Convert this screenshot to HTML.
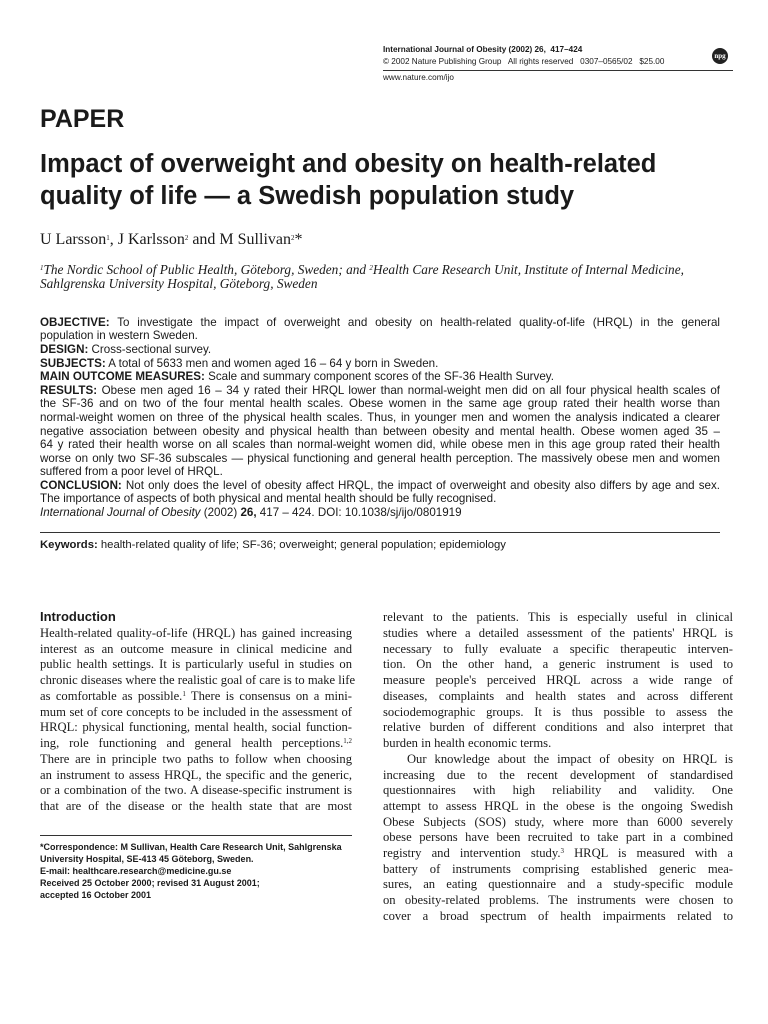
<!DOCTYPE html>
<html><head><meta charset="utf-8">
<style>
body{margin:0;background:#fff;}
#page{position:relative;width:768px;height:1024px;overflow:hidden;background:#fff;color:#1a1a1a;}
.l{position:absolute;white-space:nowrap;line-height:14px;}
.s{font-family:"Liberation Sans",sans-serif;}
.r{font-family:"Liberation Serif",serif;}
.a{font-size:11.6px;left:40px;width:680px;}
.j{text-align:justify;text-align-last:justify;}
.bl{font-size:12.6px;left:40px;width:312px;}
.br{font-size:12.6px;left:383px;width:350px;}
sup{font-size:7px;line-height:0;vertical-align:4px;}
.fn{font-size:9px;font-weight:bold;left:40px;}
</style></head><body>
<div id="page">
<div class="l s" style="left:383px;top:43px;font-size:8.2px;font-weight:bold">International Journal of Obesity (2002) 26, &nbsp;417–424</div>
<div class="l s" style="left:383px;top:55px;font-size:8.2px">© 2002 Nature Publishing Group &nbsp; All rights reserved &nbsp; 0307–0565/02 &nbsp; $25.00</div>
<div style="position:absolute;left:383px;top:70px;width:350px;height:1px;background:#333"></div>
<div class="l s" style="left:383px;top:71px;font-size:8.2px">www.nature.com/ijo</div>
<div style="position:absolute;left:712px;top:48px;width:16px;height:16px;border-radius:50%;background:#222;color:#fff;font:bold 7px 'Liberation Serif',serif;text-align:center;line-height:16px">npg</div>

<div class="l s" style="left:40px;top:103px;font-size:25px;font-weight:bold;line-height:32px">PAPER</div>
<div class="l s" style="left:40px;top:149px;font-size:25.5px;font-weight:bold;line-height:30px">Impact of overweight and obesity on health-related</div>
<div class="l s" style="left:40px;top:181px;font-size:25.5px;font-weight:bold;line-height:30px">quality of life — a Swedish population study</div>
<div class="l r" style="left:40px;top:231px;font-size:16px;line-height:18px">U Larsson<sup>1</sup>, J Karlsson<sup>2</sup> and M Sullivan<sup>2</sup>*</div>
<div class="l r" style="left:40px;top:263px;font-size:13.3px;font-style:italic"><sup>1</sup>The Nordic School of Public Health, Göteborg, Sweden; and <sup>2</sup>Health Care Research Unit, Institute of Internal Medicine,</div>
<div class="l r" style="left:40px;top:277px;font-size:13.3px;font-style:italic">Sahlgrenska University Hospital, Göteborg, Sweden</div>

<div>
<div class="l s a j" style="top:316px"><b>OBJECTIVE:</b> To investigate the impact of overweight and obesity on health-related quality-of-life (HRQL) in the general</div>
<div class="l s a" style="top:329px">population in western Sweden.</div>
<div class="l s a" style="top:343px"><b>DESIGN:</b> Cross-sectional survey.</div>
<div class="l s a" style="top:357px"><b>SUBJECTS:</b> A total of 5633 men and women aged 16 – 64 y born in Sweden.</div>
<div class="l s a" style="top:370px"><b>MAIN OUTCOME MEASURES:</b> Scale and summary component scores of the SF-36 Health Survey.</div>
<div class="l s a j" style="top:384px"><b>RESULTS:</b> Obese men aged 16 – 34 y rated their HRQL lower than normal-weight men did on all four physical health scales of</div>
<div class="l s a j" style="top:397px">the SF-36 and on two of the four mental health scales. Obese women in the same age group rated their health worse than</div>
<div class="l s a j" style="top:411px">normal-weight women on three of the physical health scales. Thus, in younger men and women the analysis indicated a clearer</div>
<div class="l s a j" style="top:425px">negative association between obesity and physical health than between obesity and mental health. Obese women aged 35 –</div>
<div class="l s a j" style="top:438px">64 y rated their health worse on all scales than normal-weight women did, while obese men in this age group rated their health</div>
<div class="l s a j" style="top:452px">worse on only two SF-36 subscales — physical functioning and general health perception. The massively obese men and women</div>
<div class="l s a" style="top:465px">suffered from a poor level of HRQL.</div>
<div class="l s a j" style="top:479px"><b>CONCLUSION:</b> Not only does the level of obesity affect HRQL, the impact of overweight and obesity also differs by age and sex.</div>
<div class="l s a" style="top:492px">The importance of aspects of both physical and mental health should be fully recognised.</div>
<div class="l s a" style="top:506px"><i>International Journal of Obesity</i> (2002) <b>26,</b> 417 – 424. DOI: 10.1038/sj/ijo/0801919</div>
</div>
<div style="position:absolute;left:40px;top:532px;width:680px;height:1px;background:#333"></div>
<div class="l s a" style="top:538px;font-size:11.3px"><b>Keywords:</b> health-related quality of life; SF-36; overweight; general population; epidemiology</div>

<div class="l s" style="left:40px;top:609px;font-size:13px;font-weight:bold;line-height:16px">Introduction</div>
<div>
<div class="l r bl j" style="top:626px">Health-related quality-of-life (HRQL) has gained increasing</div>
<div class="l r bl j" style="top:642px">interest as an outcome measure in clinical medicine and</div>
<div class="l r bl j" style="top:657px">public health settings. It is particularly useful in studies on</div>
<div class="l r bl j" style="top:673px">chronic diseases where the realistic goal of care is to make life</div>
<div class="l r bl j" style="top:689px">as comfortable as possible.<sup>1</sup> There is consensus on a mini-</div>
<div class="l r bl j" style="top:705px">mum set of core concepts to be included in the assessment of</div>
<div class="l r bl j" style="top:720px">HRQL: physical functioning, mental health, social function-</div>
<div class="l r bl j" style="top:736px">ing, role functioning and general health perceptions.<sup>1,2</sup></div>
<div class="l r bl j" style="top:752px">There are in principle two paths to follow when choosing</div>
<div class="l r bl j" style="top:768px">an instrument to assess HRQL, the specific and the generic,</div>
<div class="l r bl j" style="top:783px">or a combination of the two. A disease-specific instrument is</div>
<div class="l r bl j" style="top:799px">that are of the disease or the health state that are most</div>
</div>
<div style="position:absolute;left:40px;top:835px;width:312px;height:1px;background:#333"></div>
<div>
<div class="l s fn" style="top:840px">*Correspondence: M Sullivan, Health Care Research Unit, Sahlgrenska</div>
<div class="l s fn" style="top:852px">University Hospital, SE-413 45 Göteborg, Sweden.</div>
<div class="l s fn" style="top:864px">E-mail: healthcare.research@medicine.gu.se</div>
<div class="l s fn" style="top:876px">Received 25 October 2000; revised 31 August 2001;</div>
<div class="l s fn" style="top:888px">accepted 16 October 2001</div>
</div>

<div>
<div class="l r br j" style="top:610px">relevant to the patients. This is especially useful in clinical</div>
<div class="l r br j" style="top:626px">studies where a detailed assessment of the patients' HRQL is</div>
<div class="l r br j" style="top:642px">necessary to fully evaluate a specific therapeutic interven-</div>
<div class="l r br j" style="top:657px">tion. On the other hand, a generic instrument is used to</div>
<div class="l r br j" style="top:673px">measure people's perceived HRQL across a wide range of</div>
<div class="l r br j" style="top:689px">diseases, complaints and health states and across different</div>
<div class="l r br j" style="top:705px">sociodemographic groups. It is thus possible to assess the</div>
<div class="l r br j" style="top:720px">relative burden of different conditions and also interpret that</div>
<div class="l r br" style="top:736px">burden in health economic terms.</div>
<div class="l r br j" style="top:752px">&nbsp;&nbsp;&nbsp;Our knowledge about the impact of obesity on HRQL is</div>
<div class="l r br j" style="top:768px">increasing due to the recent development of standardised</div>
<div class="l r br j" style="top:783px">questionnaires with high reliability and validity. One</div>
<div class="l r br j" style="top:799px">attempt to assess HRQL in the obese is the ongoing Swedish</div>
<div class="l r br j" style="top:815px">Obese Subjects (SOS) study, where more than 6000 severely</div>
<div class="l r br j" style="top:830px">obese persons have been recruited to take part in a combined</div>
<div class="l r br j" style="top:846px">registry and intervention study.<sup>3</sup> HRQL is measured with a</div>
<div class="l r br j" style="top:862px">battery of instruments comprising established generic mea-</div>
<div class="l r br j" style="top:877px">sures, an eating questionnaire and a study-specific module</div>
<div class="l r br j" style="top:893px">on obesity-related problems. The instruments were chosen to</div>
<div class="l r br j" style="top:909px">cover a broad spectrum of health impairments related to</div>
</div>
</div>
</body></html>
